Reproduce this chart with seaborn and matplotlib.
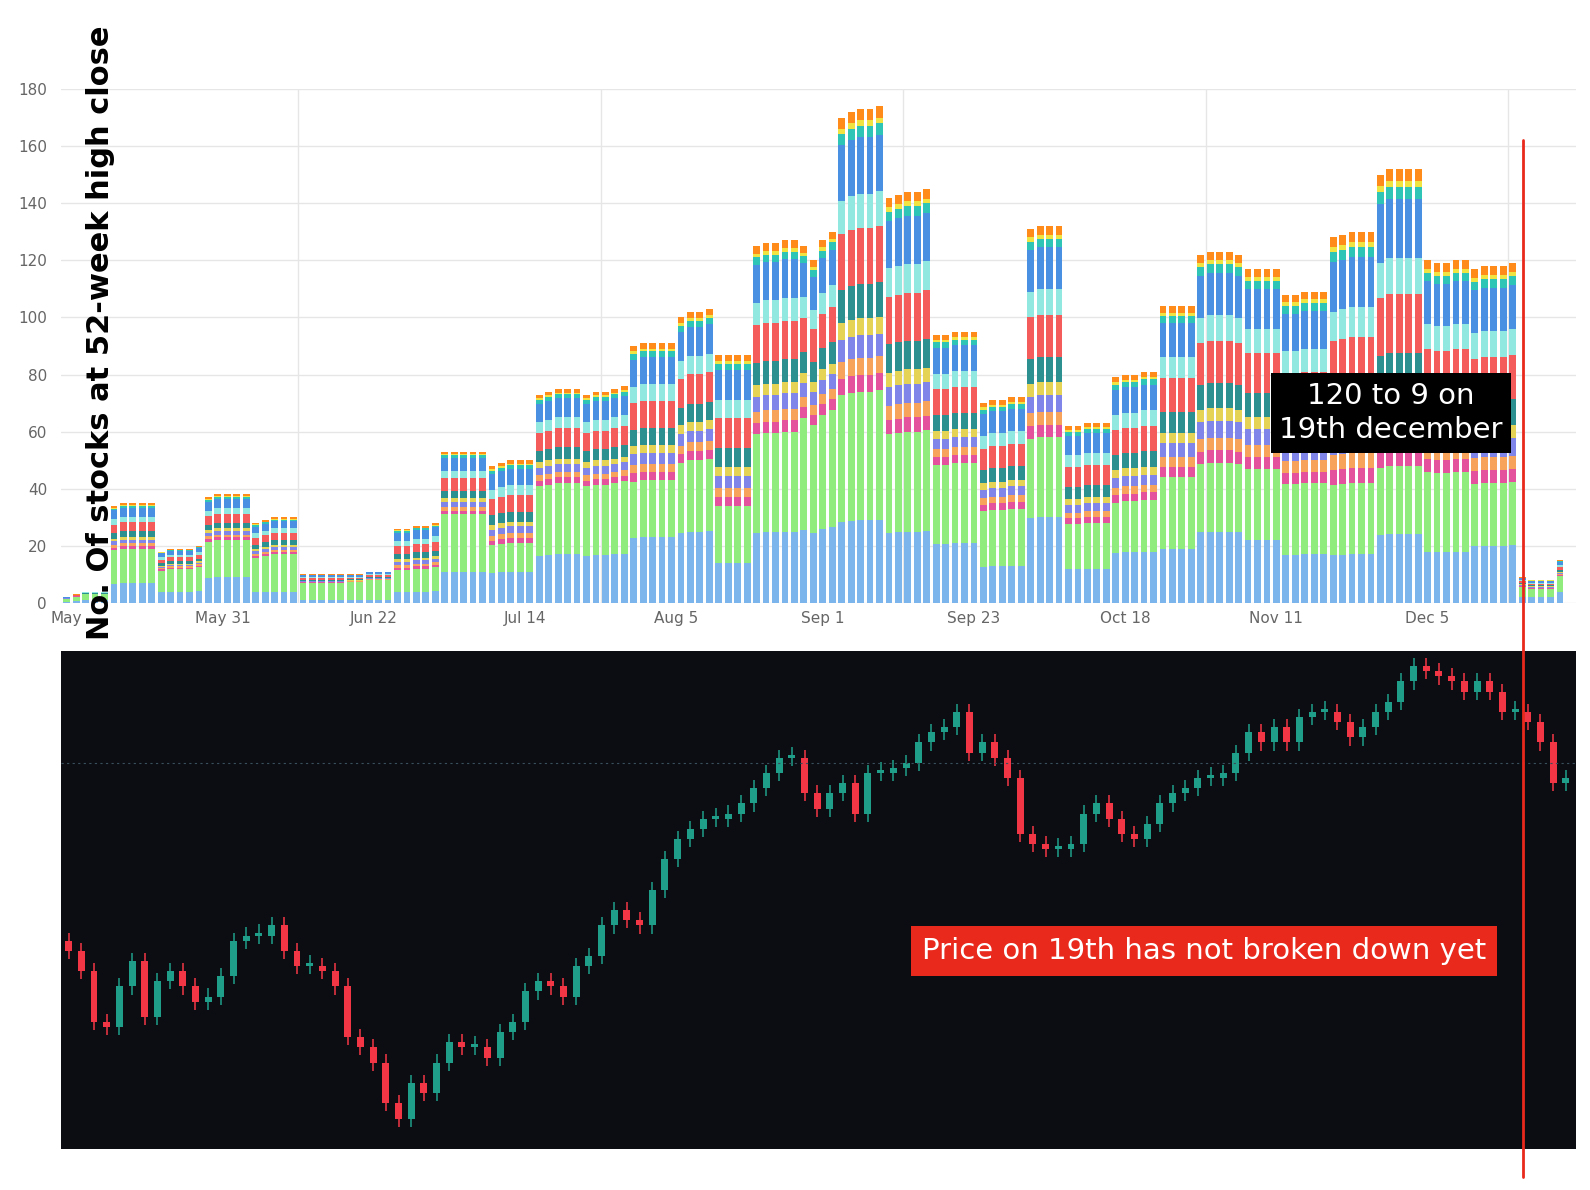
import matplotlib
matplotlib.use("Agg")
import matplotlib.pyplot as plt
import numpy as np
import seaborn as sns

# ---- data ----
week_labels = ["May", "May 31", "Jun 22", "Jul 14", "Aug 5", "Sep 1", "Sep 23", "Oct 18", "Nov 11", "Dec 5"]
label_day_idx = [0, 16.5, 32.5, 48.5, 64.5, 80, 96, 112, 128, 144]

daily_totals = [
    [2, 3, 4, 4, 4], [34, 35, 35, 35, 35], [18, 19, 19, 19, 20], [37, 38, 38, 38, 38],
    [28, 29, 30, 30, 30], [10, 10, 10, 10, 10], [10, 10, 11, 11, 11], [26, 26, 27, 27, 28],
    [53, 53, 53, 53, 53], [48, 49, 50, 50, 50], [73, 74, 75, 75, 75], [73, 74, 74, 75, 76],
    [90, 91, 91, 91, 91], [100, 102, 102, 103], [87, 87, 87, 87], [125, 126, 126, 127, 127],
    [125, 120, 127, 130], [170, 172, 173, 173, 174], [142, 143, 144, 144, 145], [94, 94, 95, 95, 95],
    [70, 71, 71, 72, 72], [131, 132, 132, 132], [62, 62, 63, 63, 63], [79, 80, 80, 81, 81],
    [104, 104, 104, 104], [122, 123, 123, 123, 122], [117, 117, 117, 117], [108, 108, 109, 109, 109],
    [128, 129, 130, 130, 130], [150, 152, 152, 152, 152], [120, 119, 119, 120, 120], [117, 118, 118, 118, 119],
    [9, 8, 8, 8, 15],
]
base_blue = [1, 7, 4, 9, 4, 1, 1, 4, 11, 11, 17, 17, 23, 25, 14, 25, 26, 29, 25, 21, 13, 30, 12, 18,
             19, 25, 22, 17, 17, 24, 18, 20, 2]
base_green = [2, 12, 8, 13, 13, 6, 7, 8, 20, 10, 25, 25, 20, 25, 20, 35, 40, 45, 35, 28, 20, 28, 16, 18,
              25, 24, 25, 25, 25, 24, 28, 22, 3]
rest_names = ["pink", "orange", "purple", "yellow", "darkteal", "red", "cyan", "blue", "aqua", "ltyellow", "dkorange"]
rest_shares = [0.06, 0.06, 0.08, 0.06, 0.12, 0.20, 0.12, 0.20, 0.04, 0.02, 0.04]
colors = {"base": "#7cb5ec", "green": "#90ed7d", "pink": "#e4519c", "orange": "#f7a35c", "purple": "#8085e9",
          "yellow": "#e4d354", "darkteal": "#2b908f", "red": "#f45b5b", "cyan": "#91e8e1", "blue": "#4a90e2",
          "aqua": "#2ec4b6", "ltyellow": "#f0e442", "dkorange": "#ff8c1a"}

closes = [195, 175, 125, 120, 160, 185, 130, 165, 175, 160, 145, 150, 170, 205, 210, 210, 220, 195, 180, 180,
          175, 160, 110, 100, 85, 45, 30, 65, 55, 85, 105, 100, 100, 90, 115, 125, 155, 165, 160, 150,
          180, 190, 220, 235, 225, 220, 255, 285, 305, 315, 325, 325, 330, 340, 355, 370, 385, 385, 350, 335,
          350, 360, 330, 370, 370, 375, 380, 400, 410, 415, 430, 390, 400, 385, 365, 310, 300, 295, 295, 300,
          330, 340, 325, 310, 305, 320, 340, 350, 355, 365, 365, 370, 390, 410, 400, 415, 400, 425, 430, 430,
          420, 405, 415, 430, 440, 460, 475, 470, 465, 460, 450, 460, 450, 430, 430, 420, 400, 360, 365]

# ---- figure ----
sns.set_theme(style="whitegrid")
plt.rcParams["font.family"] = ["DejaVu Sans"]
fig = plt.figure(figsize=(15.9, 11.9), dpi=100)
W, H = 1590, 1190
ax = fig.add_axes([61 / W, 1 - 603 / H, 1515 / W, 514 / H])
ax2 = fig.add_axes([61 / W, 1 - 1149 / H, 1515 / W, 498 / H])

# stacked bars
x = 0
for w, days in enumerate(daily_totals):
    wk_total = days[-2] if len(days) > 1 else days[0]
    rest = max(wk_total - base_blue[w] - base_green[w], 0)
    comps = [("base", base_blue[w]), ("green", base_green[w])] + \
            [(n, rest * s) for n, s in zip(rest_names, rest_shares)]
    for tot in days:
        scale = tot / wk_total
        bottom = 0
        for name, v in comps:
            ax.bar(x, v * scale, bottom=bottom, width=0.72, color=colors[name], linewidth=0)
            bottom += v * scale
        x += 1

ax.set_xlim(-0.6, 159.7)
ax.set_ylim(0, 180)
ax.set_yticks(range(0, 181, 20))
ax.set_xticks(label_day_idx)
ax.set_xticklabels(week_labels)
ax.tick_params(colors="#666666", labelsize=11, length=0, pad=6)
ax.tick_params(axis="y", pad=10)
ax.grid(axis="x", visible=False)
for gx in [24.5, 56.5, 88.5, 120.5, 152.5]:
    ax.axvline(gx, color="#e6e6e6", lw=1, zorder=0)
ax.grid(axis="y", color="#e6e6e6")
for s in ax.spines.values():
    s.set_visible(False)
ax.set_facecolor("white")

# candlesticks
ax2.set_facecolor("#0b0d12")
n = len(closes)
for i in range(n):
    o = closes[i - 1] if i > 0 else closes[0] + 10
    c = closes[i]
    up = c >= o
    col = "#1f9e89" if up else "#f23645"
    lo, hi = min(o, c), max(o, c)
    if hi - lo < 3:
        hi = lo + 3
    ax2.vlines(i, lo - 8, hi + 8, color=col, lw=1.1)
    ax2.bar(i, hi - lo, bottom=lo, width=0.55, color=col, linewidth=0)
ax2.axhline(380, color="#3a4f5c", lw=0.8, ls=(0, (2, 3)))
ax2.set_xlim(-0.6, n - 0.2)
ax2.set_ylim(0, 490)
ax2.set_xticks([])
ax2.set_yticks([])
ax2.grid(False)
for s in ax2.spines.values():
    s.set_visible(False)

# red line and annotations
fig.add_artist(plt.Line2D([1523 / W, 1523 / W], [1 - 140 / H, 1 - 1177 / H], color="#e8291c", lw=2))
fig.text(1391 / W, 1 - 413 / H, "120 to 9 on\n19th december", color="white", fontsize=21,
         ha="center", va="center", linespacing=1.3,
         bbox=dict(facecolor="black", edgecolor="none", pad=6))
fig.text(1204 / W, 1 - 951 / H, "Price on 19th has not broken down yet", color="white", fontsize=21,
         ha="center", va="center", bbox=dict(facecolor="#e8291c", edgecolor="none", pad=8))
fig.text(101 / W, 1 - 333 / H, "No. Of stocks at 52-week high close", rotation=90, fontsize=22,
         fontweight="bold", ha="center", va="center", color="black")

fig.savefig("out.png", dpi=100, facecolor="white")
